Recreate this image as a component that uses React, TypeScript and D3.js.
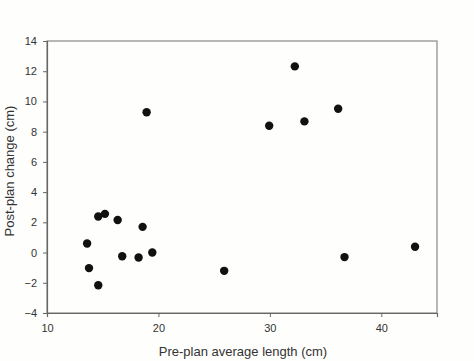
import React, { useEffect, useRef } from 'react';
import * as d3 from 'd3';

// pre-plan average length (cm) vs post-plan change (cm)
const preLength = [18.94, 14.6, 15.2, 16.34, 18.58, 13.6, 16.75, 18.22, 19.45, 13.77, 14.6, 25.9, 32.24, 29.94, 33.1, 36.13, 36.7, 43.03];
const postChange = [9.28, 2.39, 2.56, 2.15, 1.7, 0.6, -0.24, -0.33, 0.0, -1.03, -2.16, -1.21, 12.32, 8.39, 8.68, 9.52, -0.3, 0.38];
const xTicks = [10, 20, 30, 40];
const yTicks = [-4, -2, 0, 2, 4, 6, 8, 10, 12, 14];

const App = () => {
  const ref = useRef<SVGSVGElement>(null);

  useEffect(() => {
    const svg = d3.select(ref.current);
    svg.selectAll('*').remove();

    const W = 474;
    const H = 361;
    const margin = { top: 41, right: 37, bottom: 48, left: 47 };
    const width = W - margin.left - margin.right;
    const height = H - margin.top - margin.bottom;

    svg.append('rect').attr('width', W).attr('height', H).attr('fill', '#fefefc');

    const g = svg.append('g').attr('transform', `translate(${margin.left},${margin.top})`);

    const x = d3.scaleLinear().domain([10, 45]).range([0, width]);
    const y = d3.scaleLinear().domain([-4, 14]).range([height, 0]);

    // frame
    g.append('rect')
      .attr('width', width)
      .attr('height', height)
      .attr('fill', 'none')
      .attr('stroke', '#888')
      .attr('stroke-width', 1.2);

    const xAxis = g
      .append('g')
      .attr('transform', `translate(0,${height})`)
      .call(d3.axisBottom(x).tickValues(xTicks).tickSize(4).tickPadding(7));
    const yAxis = g.append('g').call(d3.axisLeft(y).tickValues(yTicks).tickSize(4).tickPadding(6));

    [xAxis, yAxis].forEach((a) => {
      a.select('.domain').attr('stroke', '#666').attr('stroke-width', 1.2);
      a.selectAll('.tick line').attr('stroke', '#666');
      a.selectAll('.tick text')
        .attr('fill', '#333')
        .style('font-family', 'Liberation Sans, Arial, sans-serif')
        .style('font-size', '11px');
    });

    g.selectAll('circle')
      .data(preLength)
      .enter()
      .append('circle')
      .attr('cx', (d) => x(d))
      .attr('cy', (d, i) => y(postChange[i]))
      .attr('r', 4.2)
      .attr('fill', '#111');

    svg
      .append('text')
      .attr('x', 243)
      .attr('y', 356)
      .attr('text-anchor', 'middle')
      .attr('fill', '#333')
      .style('font-family', 'Liberation Sans, Arial, sans-serif')
      .style('font-size', '13px')
      .text('Pre-plan average length (cm)');

    svg
      .append('text')
      .attr('transform', 'translate(14,171) rotate(-90)')
      .attr('text-anchor', 'middle')
      .attr('fill', '#333')
      .style('font-family', 'Liberation Sans, Arial, sans-serif')
      .style('font-size', '13px')
      .text('Post-plan change (cm)');
  }, []);

  return (
    <div style={{ position: 'absolute', left: 0, top: 0 }}>
      <svg ref={ref} width={474} height={361} style={{ display: 'block' }} />
    </div>
  );
};

export default App;
